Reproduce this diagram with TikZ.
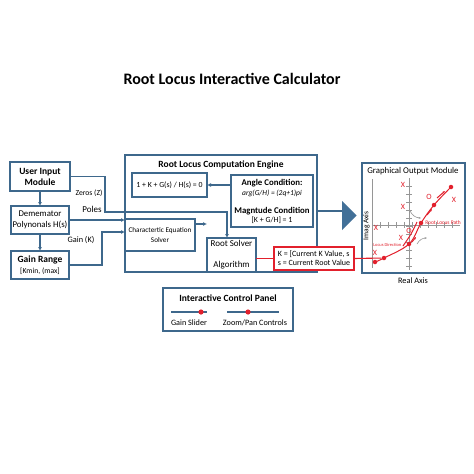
\documentclass[tikz,border=0pt]{standalone}
\usepackage{fontspec}
\setmainfont{Carlito}
\usetikzlibrary{arrows.meta}

\definecolor{boxblue}{RGB}{62,104,140}
\definecolor{triblue}{RGB}{66,112,152}
\definecolor{locusred}{RGB}{226,32,44}
\definecolor{axisgray}{RGB}{150,150,150}

\tikzset{every picture/.style={line width=1pt}}
\tikzset{
  box/.style={draw=boxblue, line width=1.2pt, fill=white, inner sep=1pt, outer sep=0pt, align=center},
  conn/.style={draw=boxblue, line width=1.1pt},
  arr/.style={conn, -{Latex[length=4pt,width=4pt]}},
  redln/.style={draw=locusred, line width=1.1pt},
  locus/.style={draw=locusred, line width=1pt},
  rdot/.style={circle, fill=locusred, inner sep=0pt, minimum size=4.5pt},
  rmark/.style={text=locusred, inner sep=0pt, font=\fontsize{8}{9}\selectfont},
  axisln/.style={draw=axisgray, line width=0.6pt},
  lbl/.style={inner sep=0.75pt}
}

\begin{document}
\begin{tikzpicture}[x=1pt,y=1pt,yscale=-1]
\fill[white] (0,0) rectangle (474,474);
\useasboundingbox (0,0) rectangle (474,474);

% Title
\node[lbl, font=\bfseries\fontsize{16}{18}\selectfont] (title) at (232,79) {Root Locus Interactive Calculator};

% Input column
\node[box, minimum width=60, minimum height=29, font=\bfseries\fontsize{9.5}{11}\selectfont] (user) at (40,176.5) {User Input\\Module};
\node[box, minimum width=58, minimum height=28, font=\fontsize{8.8}{11}\selectfont] (dem) at (40,220) {Dememator\\Polynonals H(s)};
\node[box, minimum width=58, minimum height=28, font=\fontsize{9.5}{11}\selectfont] (gain) at (40,265) {\textbf{Gain Range}\\{\fontsize{7.7}{9}\selectfont [Kmin, (max]}};

% Computation engine
\node[box, minimum width=192, minimum height=117] (engine) at (221,213.5) {};
\node[lbl, font=\bfseries\fontsize{9.5}{11}\selectfont] (etitle) at (221,165) {Root Locus Computation Engine};
\node[box, minimum width=75, minimum height=24, font=\fontsize{7.8}{9}\selectfont] (eq) at (169.5,185) {1 + K + G(s) / H(s) = 0};
\node[box, minimum width=82, minimum height=52, font=\fontsize{8.8}{10}\selectfont] (angle) at (272,201) {\textbf{Angle Condition:}\\{\itshape\fontsize{7.5}{8}\selectfont arg(G/H) = (2q+1)pi}\\[8pt]\textbf{Magntude Condition}\\[-1pt]{\fontsize{7.9}{9}\selectfont [K + G/H] = 1}};
\node[box, minimum width=70, minimum height=32, font=\fontsize{7.2}{10}\selectfont] (char) at (160,235) {Charactertic Equation\\Solver};
\node[box, minimum width=49, minimum height=34, font=\fontsize{9}{11}\selectfont] (root) at (231.5,255) {Root Solver\\[10pt]Algorithm};

% Current value box
\node[box, draw=locusred, minimum width=80, minimum height=23, font=\fontsize{8}{9}\selectfont, align=left] (kval) at (314,258.5) {K = [Current K Value, s\\s = Current Root Value};

% Labels on the input lines
\node[lbl, font=\fontsize{7.7}{9}\selectfont] (zlab) at (89,193) {Zeros (Z)};
\node[lbl, font=\fontsize{9}{10}\selectfont] (plab) at (92,209) {Poles};
\node[lbl, font=\fontsize{8.3}{10}\selectfont] (klab) at (81,240) {Gain (K)};

% Connectors
\draw[arr] (user) -- (dem);
\draw[arr] (dem) -- (gain);
\draw[arr] (user.east) -| (105,212) -| ([xshift=-4.5pt]root.north);
\draw[arr] (dem.east) -- (dem.east -| char.west);
\draw[arr] (gain.east) -- ++(33,0) |- ([yshift=-3pt]char.west);
\draw[arr] ([yshift=-11pt]char.east) -- ([yshift=-11pt]char.east -| root.west);
\draw[arr] (angle.west |- eq.east) -- (eq.east);
\draw[redln] (root.east |- kval.west) -- (kval.west);

% Output arrow
\coordinate (trin) at (342,211);
\draw[conn] (engine.east |- trin) -- (trin);
\fill[triblue] (342,201) -- (356.5,215.5) -- (342,230) -- cycle;

% Interactive control panel
\node[box, minimum width=130, minimum height=43] (panel) at (228,309.5) {};
\node[lbl, font=\bfseries\fontsize{9.5}{11}\selectfont] (ptitle) at (228,298) {Interactive Control Panel};
\draw[conn] (171,312) -- (207,312);
\draw[conn] (227,312) -- (279,312);
\fill[locusred] (201,312) circle (2.6);
\fill[locusred] (248,312) circle (2.6);
\node[lbl, font=\fontsize{8.2}{10}\selectfont] (gslab) at (189,323) {Gain Slider};
\node[lbl, font=\fontsize{8.2}{10}\selectfont] (zplab) at (255,323) {Zoom/Pan Controls};

% Graphical output module
\node[box, minimum width=103, minimum height=110] (graph) at (413.5,218) {};
\node[lbl, font=\fontsize{8.8}{10}\selectfont] (gtitle) at (413,171) {Graphical Output Module};
\node[lbl, font=\fontsize{8.3}{10}\selectfont] (xlab) at (413,281) {Real Axis};
\node[lbl, font=\fontsize{7.5}{9}\selectfont, rotate=90] (ylab) at (366.5,226) {Imag Axis};

\draw[axisln] (372,179) -- (372,268);
\draw[axisln] (409,178) -- (409,270);
\draw[axisln] (372,225) -- (460,225);
\foreach \y in {186,194,...,266} \draw[axisln] (406,\y) -- (412,\y);
\foreach \x in {380,388,...,456} \draw[axisln] (\x,222) -- (\x,228);

% root locus
\draw[locus] plot[smooth, tension=0.6] coordinates {(375,262) (384,258) (409,244) (421,223) (434,205) (451,187)};
\draw[locus] plot[smooth, tension=0.6] coordinates {(403,246) (411,234) (417,222)};
\foreach \x/\y [count=\i] in {375/262, 384/258, 409/244, 421/223, 434/205, 451/187}
  \node[rdot] (d\i) at (\x,\y) {};
\draw[redln] (kval.east) -- (d2);

\foreach \x/\y [count=\i] in {403/185, 403/207, 376/228, 401/238, 375/253, 454/200}
  \node[rmark] (pole\i) at (\x,\y) {X};
\node[rmark] (zero1) at (429,197) {O};
\node[rmark] (zero2) at (409,231) {O};

\node[lbl, anchor=west, text=locusred, font=\fontsize{5.5}{6}\selectfont] (pathlab) at (424,223) {Root Locus Path};
\node[lbl, anchor=west, text=locusred, font=\fontsize{4.5}{5}\selectfont] (dirlab) at (372,245) {Locus Direction};

\draw[locus, -{Stealth[length=2.5pt]}] (437,198) -- (445,191);
\draw[locus, -{Stealth[length=2.5pt]}] (427,215) -- (432,209);
\draw[locus, -{Stealth[length=2.5pt]}] (412,242) -- (416,237);
\draw[axisln, -{Stealth[length=2.5pt]}] (410,211) to[bend left=30] (421,218);
\draw[axisln, -{Stealth[length=2.5pt]}] (417,244) to[bend right=30] (427,238);

\end{tikzpicture}
\end{document}
